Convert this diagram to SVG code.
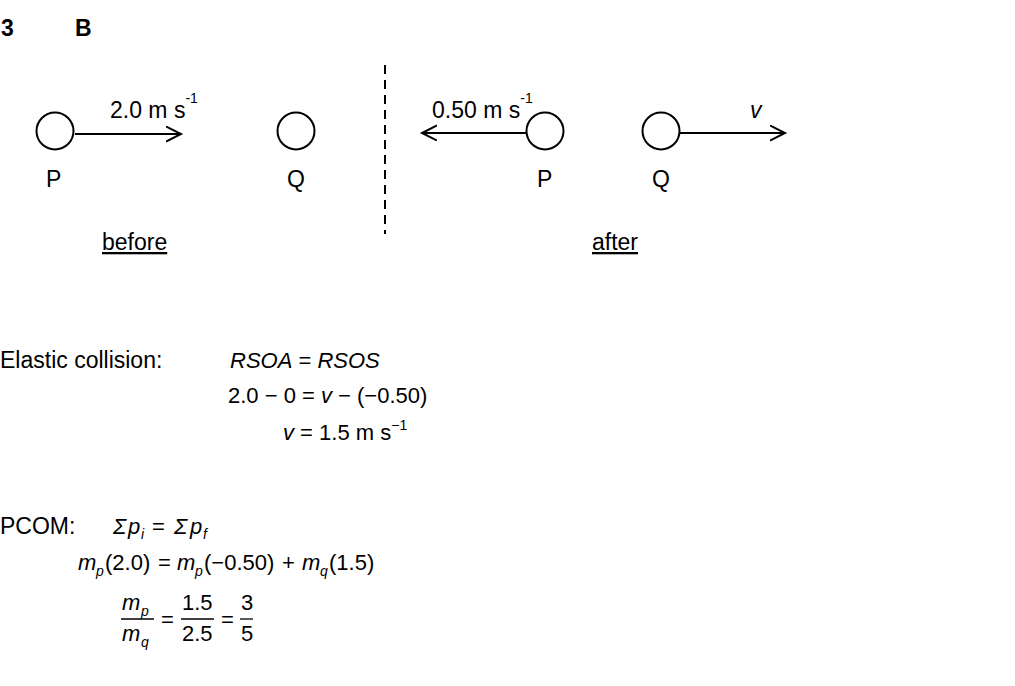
<svg xmlns="http://www.w3.org/2000/svg" width="1015" height="686" viewBox="0 0 1015 686">
<defs>
<style>
text{font-family:"Liberation Sans",Arial,sans-serif;fill:#000;font-size:23px}
.b{font-weight:bold}
.i{font-style:italic}
.m{font-size:22px}
.sup{font-size:14px}
.sub{font-size:14px;font-style:italic}
.ball{fill:#fff;stroke:#000;stroke-width:2}
.arr{stroke:#000;stroke-width:2;fill:none}
</style>
<marker id="chev" markerWidth="18" markerHeight="18" refX="15" refY="8" orient="auto" markerUnits="userSpaceOnUse">
<path d="M0,0.5 L15,8 L0,15.5" fill="none" stroke="#000" stroke-width="2"/>
</marker>
</defs>
<rect width="1015" height="686" fill="#fff"/>
<text x="1" y="36" class="b">3</text>
<text x="75" y="36" class="b">B</text>

<g id="connectors">
<line class="arr" x1="75" y1="134" x2="181" y2="134" marker-end="url(#chev)"/>
<line class="arr" x1="527" y1="133" x2="422" y2="133" marker-end="url(#chev)"/>
<line class="arr" x1="680" y1="133" x2="785" y2="133" marker-end="url(#chev)"/>
<line x1="385" y1="65" x2="385" y2="234" stroke="#000" stroke-width="2" stroke-dasharray="9,6"/>
</g>

<g id="P-before">
<circle class="ball" cx="55" cy="131" r="18.5"/>
<text x="46" y="187">P</text>
</g>
<g id="Q-before">
<circle class="ball" cx="296" cy="131" r="18.5"/>
<text x="287" y="187">Q</text>
</g>
<g id="P-after">
<circle class="ball" cx="545" cy="131" r="18.5"/>
<text x="537" y="187">P</text>
</g>
<g id="Q-after">
<circle class="ball" cx="661" cy="131" r="18.5"/>
<text x="652" y="187">Q</text>
</g>

<text x="110" y="118">2.0 m s<tspan class="sup" dy="-15">-1</tspan></text>
<text x="432" y="118">0.50 m s<tspan class="sup" dy="-15">-1</tspan></text>
<text x="750" y="118" class="i">v</text>
<text x="102" y="250" text-decoration="underline">before</text>
<text x="592" y="250" text-decoration="underline">after</text>

<text x="0" y="368">Elastic collision:</text>
<text x="230" y="368" class="m"><tspan class="i">RSOA</tspan> = <tspan class="i">RSOS</tspan></text>
<text x="228" y="403" class="m">2.0 − 0 = <tspan class="i">v</tspan> − (−0.50)</text>
<text x="283" y="440" class="m"><tspan class="i">v</tspan> = 1.5 m s<tspan class="sup" dy="-10">−1</tspan></text>

<text x="0" y="534">PCOM:</text>
<g class="eq1">
<text x="113" y="534" class="m i">Σ</text>
<text x="128" y="534" class="m i">p</text>
<text x="141" y="539" class="sub">i</text>
<text x="152" y="534" class="m">=</text>
<text x="174" y="534" class="m i">Σ</text>
<text x="190" y="534" class="m i">p</text>
<text x="203" y="539" class="sub">f</text>
</g>
<g class="eq2">
<text x="78" y="570" class="m i">m</text>
<text x="96" y="576" class="sub">p</text>
<text x="105" y="570" class="m">(2.0)</text>
<text x="158" y="570" class="m">=</text>
<text x="177" y="570" class="m i">m</text>
<text x="195" y="576" class="sub">p</text>
<text x="204" y="570" class="m">(−0.50)</text>
<text x="282" y="570" class="m">+</text>
<text x="302" y="570" class="m i">m</text>
<text x="320" y="576" class="sub">q</text>
<text x="329" y="570" class="m">(1.5)</text>
</g>
<g class="eq3">
<text x="122" y="610" class="m i">m</text>
<text x="141" y="616" class="sub">p</text>
<line x1="121" y1="619" x2="154" y2="619" stroke="#000" stroke-width="1.3"/>
<text x="122" y="641" class="m i">m</text>
<text x="141" y="647" class="sub">q</text>
<text x="161" y="627" class="m">=</text>
<text x="182" y="610" class="m">1.5</text>
<line x1="181" y1="619" x2="214" y2="619" stroke="#000" stroke-width="1.3"/>
<text x="182" y="641" class="m">2.5</text>
<text x="221" y="627" class="m">=</text>
<text x="241" y="610" class="m">3</text>
<line x1="240" y1="619" x2="253" y2="619" stroke="#000" stroke-width="1.3"/>
<text x="241" y="641" class="m">5</text>
</g>
</svg>
